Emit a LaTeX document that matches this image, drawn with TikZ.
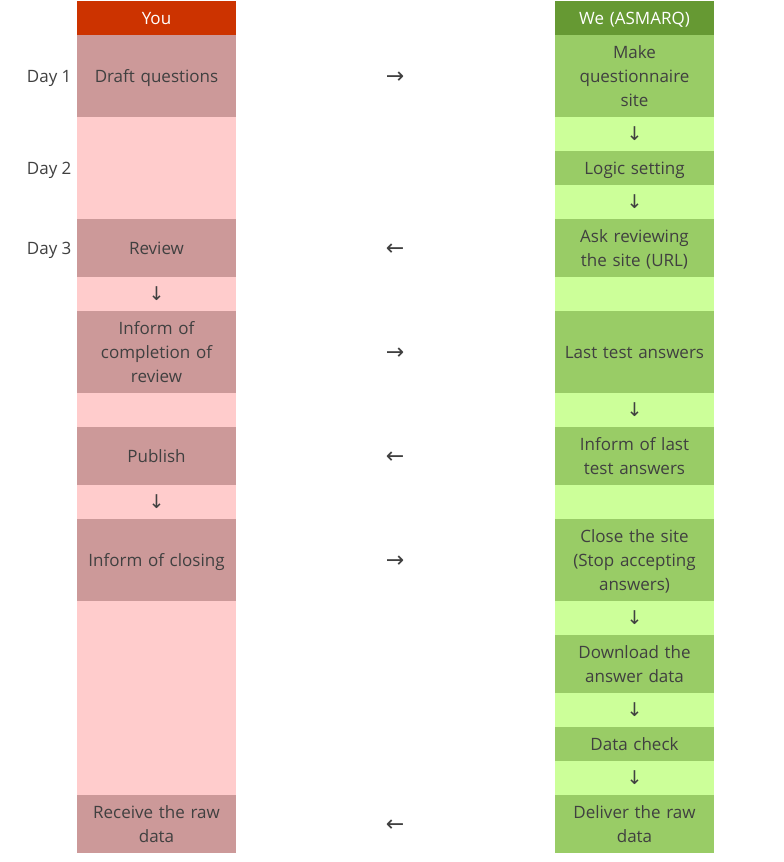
\documentclass[tikz,border=0pt]{standalone}
\usepackage{fontspec}
\setmainfont{Open Sans}
\newfontfamily\arrowfont{DejaVu Sans}
\definecolor{youhead}{HTML}{CC3300}
\definecolor{youdark}{HTML}{CC9999}
\definecolor{youlight}{HTML}{FFCCCC}
\definecolor{wehead}{HTML}{669933}
\definecolor{wedark}{HTML}{99CC66}
\definecolor{welight}{HTML}{CCFF99}
\definecolor{ink}{HTML}{404040}
\tikzset{
  cell/.style={inner sep=0pt, minimum width=159pt, text width=156pt, align=center,
    execute at begin node={\rule{0pt}{18.5pt}},
    execute at end node={\rule[-5.5pt]{0pt}{5.5pt}},
    text=ink, font=\fontsize{17}{24}\selectfont},
  youhd/.style={cell, fill=youhead, text=white},
  youdk/.style={cell, fill=youdark},
  yoult/.style={cell, fill=youlight},
  wehd/.style={cell, fill=wehead, text=white},
  wedk/.style={cell, fill=wedark},
  welt/.style={cell, fill=welight},
  daylabel/.style={anchor=east, text=ink, font=\fontsize{17}{24}\selectfont},
  swap/.style={text=ink, font=\arrowfont\fontsize{22}{24}\selectfont},
}
\newcommand{\dn}{{\arrowfont\fontsize{19}{20}\selectfont ↓}}
\begin{document}
\begin{tikzpicture}[x=1pt, y=-1pt]
    \useasboundingbox[fill=white] (0,0) rectangle (784,862);
    % You
    \node[youhd, minimum height=34] (you) at (156.5,18) {You};
    \node[youdk, minimum height=82] (draft) at (156.5,76) {Draft questions};
    \node[yoult, minimum height=102] (wait) at (156.5,168) {};
    \node[youdk, minimum height=58] (review) at (156.5,248) {Review};
    \node[yoult, minimum height=34] (ydn1) at (156.5,294) {\dn};
    \node[youdk, minimum height=82] (done) at (156.5,352) {Inform of\\completion of\\review};
    \node[yoult, minimum height=34] (gap1) at (156.5,410) {};
    \node[youdk, minimum height=58] (publish) at (156.5,456) {Publish};
    \node[yoult, minimum height=34] (ydn2) at (156.5,502) {\dn};
    \node[youdk, minimum height=82] (closing) at (156.5,560) {Inform of closing};
    \node[yoult, minimum height=194] (gap2) at (156.5,698) {};
    \node[youdk, minimum height=58] (receive) at (156.5,824) {Receive the raw\\data};
    % We (ASMARQ)
    \node[wehd, minimum height=34] (we) at (634.5,18) {We (ASMARQ)};
    \node[wedk, minimum height=82] (make) at (634.5,76) {Make\\questionnaire\\site};
    \node[welt, minimum height=34] (wdn1) at (634.5,134) {\dn};
    \node[wedk, minimum height=34] (logic) at (634.5,168) {Logic setting};
    \node[welt, minimum height=34] (wdn2) at (634.5,202) {\dn};
    \node[wedk, minimum height=58] (ask) at (634.5,248) {Ask reviewing\\the site (URL)};
    \node[welt, minimum height=34] (gap3) at (634.5,294) {};
    \node[wedk, minimum height=82] (last) at (634.5,352) {Last test answers};
    \node[welt, minimum height=34] (wdn3) at (634.5,410) {\dn};
    \node[wedk, minimum height=58] (inform) at (634.5,456) {Inform of last\\test answers};
    \node[welt, minimum height=34] (gap4) at (634.5,502) {};
    \node[wedk, minimum height=82] (close) at (634.5,560) {Close the site\\(Stop accepting\\answers)};
    \node[welt, minimum height=34] (wdn4) at (634.5,618) {\dn};
    \node[wedk, minimum height=58] (download) at (634.5,664) {Download the\\answer data};
    \node[welt, minimum height=34] (wdn5) at (634.5,710) {\dn};
    \node[wedk, minimum height=34] (check) at (634.5,744) {Data check};
    \node[welt, minimum height=34] (wdn6) at (634.5,778) {\dn};
    \node[wedk, minimum height=58] (deliver) at (634.5,824) {Deliver the raw\\data};
    % days
    \node[daylabel] (day1) at (75,78) {Day 1};
    \node[daylabel] (day2) at (75,170) {Day 2};
    \node[daylabel] (day3) at (75,250) {Day 3};
    % hand-over marks
    \node[swap] (s1) at (395,77.5) {→};
    \node[swap] (s2) at (395,249.5) {←};
    \node[swap] (s3) at (395,353.5) {→};
    \node[swap] (s4) at (395,457.5) {←};
    \node[swap] (s5) at (395,561.5) {→};
    \node[swap] (s6) at (395,825.5) {←};
\end{tikzpicture}
\end{document}
